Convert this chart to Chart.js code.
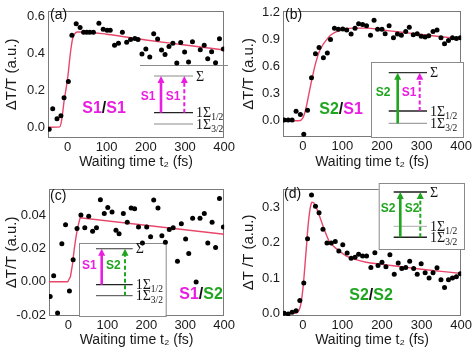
<!DOCTYPE html>
<html><head><meta charset="utf-8">
<script src="https://cdn.jsdelivr.net/npm/chart.js@4"></script>
<style>
body{margin:0;background:#fff;width:474px;height:356px;position:relative;overflow:hidden}
canvas{position:absolute}
</style></head><body>
<canvas id="ca" width="237" height="178" style="left:0;top:0"></canvas>
<canvas id="cb" width="237" height="178" style="left:237px;top:0"></canvas>
<canvas id="cc" width="237" height="178" style="left:0;top:178px"></canvas>
<canvas id="cd" width="237" height="178" style="left:237px;top:178px"></canvas>
<script>
// ---------- data ----------
const xTicks = [0, 100, 200, 300, 400];
const xLabels = ['0', '100', '200', '300', '400'];

const aTime = [-47,-38,-27,-17,-9,2,11,22,32,41,49,57,66,80,91,101,109,120,130,140,151,161,172,180,190,200,210,220,230,240,249,259,269,279,289,299,309,319,339,349,358,368,378,388,398];
const aValue = [-0.01,0.10,0.046,0.063,0.16,0.247,0.498,0.56,0.54,0.514,0.514,0.514,0.514,0.563,0.53,0.525,0.525,0.444,0.454,0.514,0.46,0.475,0.48,0.475,0.396,0.424,0.38,0.506,0.477,0.418,0.393,0.437,0.454,0.347,0.458,0.407,0.353,0.462,0.419,0.444,0.37,0.409,0.349,0.479,0.423];
const aFitTime = [-50,-20,-15,-9,-3,1,5,9,13,18,25,40,100,200,300,400];
const aFitValue = [0,0.002,0.04,0.14,0.22,0.28,0.36,0.43,0.48,0.505,0.515,0.515,0.503,0.472,0.445,0.418];
const aYTicks = [0, 0.2, 0.4, 0.6];
const aYLabels = ['0.0', '0.2', '0.4', '0.6'];

const bTime = [-47,-37,-27,-17,-6,2.5,12,22,32,41,52,62,70,80,90,101,111,122,132,141,151,161,171,180,189,200,208,218,229,239,249,260,269,279,289,299,309,318,329,339,349,358,368,378,388,398];
const bValue = [0.01,0.01,0.01,0.106,0.07,-0.15,0.117,0.48,0.745,0.816,0.70,0.755,0.904,1.03,1.018,1.02,1.01,0.965,1.03,1.08,1.07,1.056,0.95,1.117,1.018,1.018,0.968,1.056,0.922,0.965,0.95,0.993,1.04,0.957,0.968,0.94,0.933,0.947,0.993,1.01,0.922,0.858,0.894,0.922,0.915,0.922];
const bFitTime = [-50,-10,0,5,10,15,20,25,30,35,40,50,60,70,80,100,130,160,200,250,300,350,400];
const bFitValue = [0,0,0.03,0.09,0.18,0.29,0.40,0.50,0.60,0.68,0.75,0.84,0.90,0.95,0.98,1.015,1.03,1.03,1.01,0.985,0.96,0.935,0.912];
const bYTicks = [0, 0.3, 0.6, 0.9, 1.2];
const bYLabels = ['0.0', '0.3', '0.6', '0.9', '1.2'];

const cTime = [-47,-38,-28,-17,-7.5,2.5,12,22,32,42,52,62,72,82,92,101,112,122,130,141,151,161,170,180,190,201,211,219,230,240,249,259,269,280,290,301,309,319,328,338,349,358,369,378,388,398];
const cValue = [-0.0088,0.0036,-0.0188,0.0229,0.0344,-0.0056,0.0133,0.0321,0.0402,0.0325,0.0394,0.0305,0.0325,0.0494,0.0411,0.0448,0.042,0.031,0.029,0.0411,0.0359,0.0444,0.044,0.033,0.0234,0.033,0.0271,0.0492,0.0444,0.0277,0.0238,0.0315,0.0325,0.0123,0.035,0.0258,0.0171,0.0382,-0.0002,0.0382,0.0411,0.0234,0.0359,0.0206,0.0501,0.033];
const cFitTime = [-50,-2,5,10,15,20,25,30,400];
const cFitValue = [0,0,0.003,0.01,0.02,0.028,0.034,0.0385,0.0286];
const cYTicks = [-0.02, 0, 0.02, 0.04];
const cYLabels = ['-0.02', '0.00', '0.02', '0.04'];

const dTime = [-47,-37,-27,-17,-7.5,2.5,12,22,32,41,51,61,72,82,91,101,112,122,132,141,151,161,172,182,190,200,210,220,231,241,250,260,270,280,289,299,309,319,329,339,349,358,368,378,388,398];
const dValue = [0.0,-0.002,0.003,0.007,0.036,0.086,0.212,0.336,0.304,0.286,0.239,0.2,0.2,0.204,0.177,0.195,0.171,0.156,0.159,0.168,0.163,0.163,0.13,0.172,0.136,0.145,0.132,0.166,0.111,0.143,0.127,0.13,0.148,0.127,0.111,0.141,0.115,0.1,0.115,0.129,0.095,0.073,0.095,0.1,0.104,0.112];
const dFitTime = [-50,-20,-10,-5,1,5,9,13,17,20,23,27,30,36,42,55,67,88,109,130,160,200,250,300,350,400];
const dFitValue = [0,0,0.008,0.025,0.077,0.13,0.186,0.245,0.286,0.306,0.316,0.315,0.309,0.295,0.277,0.236,0.204,0.181,0.163,0.154,0.145,0.139,0.132,0.125,0.119,0.113];
const dYTicks = [0, 0.1, 0.2, 0.3];
const dYLabels = ['0.0', '0.1', '0.2', '0.3'];

// ---------- styling ----------
const MAG = '#ea1ee0', GRN = '#1fa51f', FIT = '#e8466a';
const SANS = '"Liberation Sans", Arial, sans-serif';
const SERIF = '"Liberation Serif", "Times New Roman", serif';
const pts = (xs, ys) => xs.map((x, i) => ({x, y: ys[i]}));

function hline(ctx, x1, x2, y, color, w) {
  ctx.save(); ctx.strokeStyle = color; ctx.lineWidth = w;
  ctx.beginPath(); ctx.moveTo(x1, y); ctx.lineTo(x2, y); ctx.stroke(); ctx.restore();
}
function arrow(ctx, x, yb, yt, color, dashed) {
  ctx.save(); ctx.strokeStyle = color; ctx.fillStyle = color;
  ctx.lineWidth = dashed ? 2 : 2.6;
  if (dashed) ctx.setLineDash([4, 2.5]);
  ctx.beginPath(); ctx.moveTo(x, yb); ctx.lineTo(x, yt + 5); ctx.stroke();
  ctx.setLineDash([]);
  ctx.beginPath(); ctx.moveTo(x, yt); ctx.lineTo(x - 3.5, yt + 7); ctx.lineTo(x + 3.5, yt + 7); ctx.closePath(); ctx.fill();
  ctx.restore();
}
function levelLabel(ctx, x, y, sub) {
  ctx.save(); ctx.fillStyle = '#111'; ctx.textBaseline = 'middle'; ctx.textAlign = 'left';
  ctx.font = '14px ' + SERIF;
  if (!sub) { ctx.fillText('Σ', x, y + 1); ctx.restore(); return; }
  ctx.fillText('1Σ', x, y + 1);
  const w = ctx.measureText('1Σ').width;
  ctx.font = '9.5px ' + SERIF;
  ctx.fillText(sub, x + w, y + 5);
  ctx.restore();
}
function multiText(ctx, cx, cy, parts, font) {
  ctx.save(); ctx.font = font; ctx.textBaseline = 'middle'; ctx.textAlign = 'left';
  const tot = parts.reduce((s, p) => s + ctx.measureText(p[0]).width, 0);
  let x = cx - tot / 2;
  parts.forEach(p => { ctx.fillStyle = p[1]; ctx.fillText(p[0], x, cy); x += ctx.measureText(p[0]).width; });
  ctx.restore();
}

function makeInsetPlugin(ins) {
  return {
    id: 'inset',
    beforeDatasetsDraw(chart) {
      const ctx = chart.ctx, a = chart.chartArea;
      ctx.save();
      ctx.strokeStyle = '#7a7a7a'; ctx.lineWidth = 1;
      ctx.strokeRect(Math.round(a.left) + 0.5, Math.round(a.top) + 0.5, Math.round(a.right - a.left) - 1, Math.round(a.bottom - a.top) - 1);
      if (ins.box) {
        const b = ins.box;
        ctx.fillStyle = '#fff';
        ctx.fillRect(b.l, b.t, b.r - b.l, b.b - b.t);
        ctx.strokeStyle = '#8a8a8a';
        ctx.strokeRect(b.l + 0.5, b.t + 0.5, b.r - b.l, b.b - b.t);
      }
      if (ins.topLine) hline(ctx, ins.topLine.x1, ins.topLine.x2, ins.topLine.y + 0.5, '#8a8a8a', 1);
      ctx.restore();
    },
    afterDatasetsDraw(chart) {
      const ctx = chart.ctx;
      ins.levels.forEach(l => {
        hline(ctx, ins.lx1, ins.lx2, l.y, l.color, l.w);
        levelLabel(ctx, ins.lx2 + 3, l.y, l.sub);
      });
      ins.arrows.forEach(r => arrow(ctx, r.x, r.yb, r.yt, r.c, r.dashed));
      ins.texts.forEach(t => multiText(ctx, t.x, t.y, [[t.t, t.c]], 'bold 12px ' + SANS));
      multiText(ctx, ins.main.x, ins.main.y, ins.main.parts, 'bold 16px ' + SANS);
      ctx.save(); ctx.font = '14px ' + SANS; ctx.fillStyle = '#111'; ctx.textBaseline = 'middle';
      ctx.fillText(ins.letter.t, ins.letter.x, ins.letter.y); ctx.restore();
    }
  };
}

function makePanel(id, p) {
  new Chart(document.getElementById(id), {
    type: 'scatter',
    data: {
      datasets: [
        {data: pts(p.t, p.v), pointRadius: 2.5, pointBackgroundColor: '#000', pointBorderWidth: 0, showLine: false, order: 1},
        {data: pts(p.ft, p.fv), type: 'line', showLine: true, pointRadius: 0, borderColor: FIT, borderWidth: 1.4,
         cubicInterpolationMode: p.linear ? 'default' : 'monotone', tension: 0, fill: false, order: 2}
      ]
    },
    options: {
      responsive: false, animation: false,
      layout: {padding: {left: 0, top: 5, right: 237 - p.right, bottom: 0}},
      plugins: {legend: {display: false}, tooltip: {enabled: false}},
      scales: {
        x: {
          type: 'linear', min: -50, max: 400,
          afterFit: s => { s.height = 178 - p.bottom; },
          afterBuildTicks: s => { s.ticks = xTicks.map(v => ({value: v})); },
          grid: {display: false, drawTicks: false}, border: {display: false},
          ticks: {autoSkip: false, padding: 2, color: '#1a1a1a', font: {family: SANS, size: 13}, callback: (v, i) => xLabels[i]},
          title: {display: true, text: 'Waiting time t₂ (fs)', color: '#1a1a1a', font: {family: SANS, size: 14}, padding: {top: 0, bottom: 7}}
        },
        y: {
          type: 'linear', min: p.ymin, max: p.ymax,
          afterFit: s => { s.width = p.left; },
          afterBuildTicks: s => { s.ticks = p.yt.map(v => ({value: v})); },
          grid: {display: false, drawTicks: false}, border: {display: false},
          ticks: {autoSkip: false, padding: 3, color: '#1a1a1a', font: {family: SANS, size: 13}, callback: (v, i) => p.yl[i]},
          title: {display: true, text: p.ytitle, color: '#1a1a1a', font: {family: SANS, size: 15}, padding: {top: 3, bottom: 0}}
        }
      }
    },
    plugins: [makeInsetPlugin(p.inset)]
  });
}

makePanel('ca', {
  t: aTime, v: aValue, ft: aFitTime, fv: aFitValue, yt: aYTicks, yl: aYLabels,
  ymin: -0.058, ymax: 0.63, left: 48, right: 228, bottom: 138, ytitle: 'ΔT/T (a.u.)',
  inset: {
    topLine: {x1: 140, x2: 228, y: 65}, lx1: 154, lx2: 193,
    levels: [{y: 76, color: '#8a8a8a', w: 1}, {y: 112.7, color: '#222', w: 1.3, sub: '1/2'}, {y: 124, color: '#8a8a8a', w: 1, sub: '3/2'}],
    arrows: [{x: 161, yb: 112.7, yt: 76, c: MAG}, {x: 184.3, yb: 112.7, yt: 76, c: MAG, dashed: true}],
    texts: [{t: 'S1', x: 148, y: 97, c: MAG}, {t: 'S1', x: 173, y: 97, c: MAG}],
    main: {x: 104, y: 109, parts: [['S1', MAG], ['/', '#111'], ['S1', MAG]]},
    letter: {t: '(a)', x: 50, y: 15}
  }
});

makePanel('cb', {
  t: bTime, v: bValue, ft: bFitTime, fv: bFitValue, yt: bYTicks, yl: bYLabels,
  ymin: -0.18, ymax: 1.223, left: 46, right: 226, bottom: 137, ytitle: 'ΔT/T (a.u.)',
  inset: {
    box: {l: 134, t: 62, r: 226, b: 137}, lx1: 151.7, lx2: 190,
    levels: [{y: 72.7, color: '#333', w: 1.2}, {y: 111, color: '#222', w: 1.3, sub: '1/2'}, {y: 123.3, color: '#8a8a8a', w: 1, sub: '3/2'}],
    arrows: [{x: 160.7, yb: 123.3, yt: 72.7, c: GRN}, {x: 182.7, yb: 111, yt: 72.7, c: MAG, dashed: true}],
    texts: [{t: 'S2', x: 146, y: 93, c: GRN}, {t: 'S1', x: 172, y: 93, c: MAG}],
    main: {x: 104, y: 110, parts: [['S2', GRN], ['/', '#111'], ['S1', MAG]]},
    letter: {t: '(b)', x: 48, y: 15}
  }
});

makePanel('cc', {
  t: cTime, v: cValue, ft: cFitTime, fv: cFitValue, yt: cYTicks, yl: cYLabels, linear: true,
  ymin: -0.0206, ymax: 0.056, left: 49, right: 228, bottom: 138, ytitle: 'ΔT/T (a.u.)',
  inset: {
    box: {l: 79, t: 65, r: 165.7, b: 138}, lx1: 96, lx2: 132.7,
    levels: [{y: 70.7, color: '#333', w: 1.1}, {y: 106.7, color: '#222', w: 1.3, sub: '1/2'}, {y: 117.7, color: '#444', w: 1, sub: '3/2'}],
    arrows: [{x: 101.7, yb: 106.7, yt: 70.7, c: MAG}, {x: 125, yb: 117.7, yt: 70.7, c: GRN, dashed: true}],
    texts: [{t: 'S1', x: 89.3, y: 88, c: MAG}, {t: 'S2', x: 113.3, y: 88, c: GRN}],
    main: {x: 201, y: 117, parts: [['S1', MAG], ['/', '#111'], ['S2', GRN]]},
    letter: {t: '(c)', x: 50, y: 18}
  }
});

makePanel('cd', {
  t: dTime, v: dValue, ft: dFitTime, fv: dFitValue, yt: dYTicks, yl: dYLabels,
  ymin: -0.008, ymax: 0.354, left: 46, right: 227, bottom: 138, ytitle: 'ΔT /T (a.u.)',
  inset: {
    box: {l: 141.7, t: 5, r: 227, b: 71}, lx1: 156.7, lx2: 190,
    levels: [{y: 14, color: '#555', w: 2}, {y: 48.3, color: '#aaa', w: 1, sub: '1/2'}, {y: 59.3, color: '#222', w: 1.4, sub: '3/2'}],
    arrows: [{x: 163.3, yb: 59.3, yt: 14, c: GRN}, {x: 183.3, yb: 59.3, yt: 14, c: GRN, dashed: true}],
    texts: [{t: 'S2', x: 151, y: 31, c: GRN}, {t: 'S2', x: 175, y: 31, c: GRN}],
    main: {x: 134, y: 118, parts: [['S2', GRN], ['/', '#111'], ['S2', GRN]]},
    letter: {t: '(d)', x: 47, y: 16}
  }
});
</script>
</body></html>
